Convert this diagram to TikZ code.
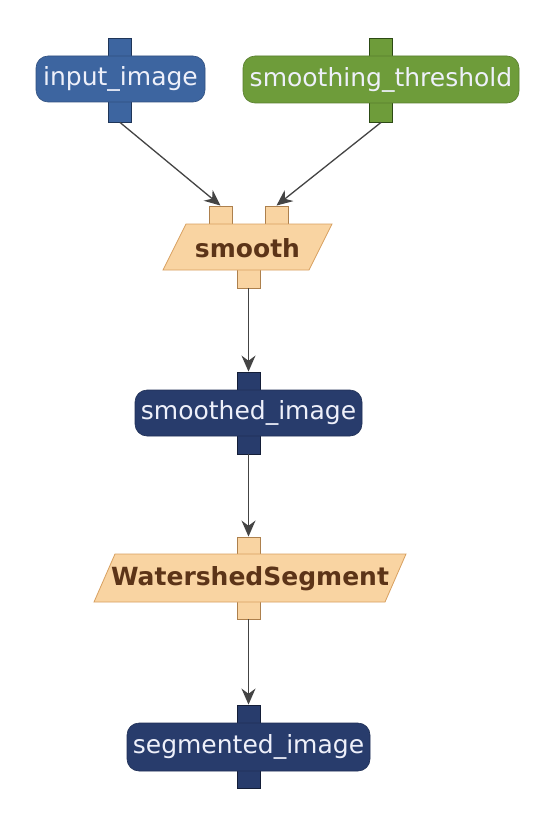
\documentclass[tikz,border=0pt]{standalone}
\usepackage{fontspec}
\setmainfont{DejaVu Sans}
\usetikzlibrary{arrows.meta}
\definecolor{cIn}{HTML}{3D65A0}
\definecolor{cInD}{HTML}{1F3558}
\definecolor{cGr}{HTML}{6E9C3A}
\definecolor{cGrD}{HTML}{2C4A14}
\definecolor{cNv}{HTML}{283C6C}
\definecolor{cNvD}{HTML}{141E38}
\definecolor{cPr}{HTML}{F9D4A2}
\definecolor{cPrD}{HTML}{D8A060}
\definecolor{cPrT}{HTML}{5C3418}
\definecolor{cTxt}{HTML}{EEF0FA}
\definecolor{cArr}{HTML}{444444}
\begin{document}
\begin{tikzpicture}[x=1pt,y=-1pt,
  portbox/.style={draw=#1, line width=0.9pt, inner sep=0pt, minimum width=23, rectangle},
  databox/.style={rounded corners=12pt, inner sep=0pt, minimum height=46, text=cTxt,
    font=\fontsize{25}{29}\selectfont, draw=#1, line width=0.6pt},
  proctext/.style={font=\bfseries\fontsize{25}{29}\selectfont, text=cPrT, inner sep=0pt},
  procshape/.style={fill=cPr, draw=cPrD, line width=0.8pt},
  conn/.style={draw=cArr, line width=1.3pt, -{Stealth[length=16pt,width=14pt]}}
]
\useasboundingbox (0,0) rectangle (547,821);
\fill[white] (0,0) rectangle (547,821);

% input_image
\node[portbox=cInD, fill=cIn, minimum height=84] (pin) at (120,80) {};
\node[databox=cIn!80!black, fill=cIn, minimum width=169] (nin) at (120.5,79) {input\_image};

% smoothing_threshold
\node[portbox=cGrD, fill=cGr, minimum height=84] (pth) at (381,80) {};
\node[databox=cGr!80!black, fill=cGr, minimum width=276, minimum height=47] (nth) at (381,79.5) {smoothing\_threshold};

% smooth
\node[portbox=cPrD!80!black, fill=cPr, minimum height=30] (psa) at (220.5,221) {};
\node[portbox=cPrD!80!black, fill=cPr, minimum height=30] (psb) at (276.5,221) {};
\node[portbox=cPrD!80!black, fill=cPr, minimum height=26] (psc) at (248.5,275) {};
\path[procshape] (163,270) -- (186,224) -- (332,224) -- (309,270) -- cycle;
\node[proctext] (nsm) at (247.5,248) {smooth};

% smoothed_image
\node[portbox=cNvD, fill=cNv, minimum height=82] (psi) at (248.5,413) {};
\node[databox=cNv!80!black, fill=cNv, minimum width=227] (nsi) at (248.5,413) {smoothed\_image};

% WatershedSegment
\node[portbox=cPrD!80!black, fill=cPr, minimum height=82] (pws) at (248.5,578) {};
\path[procshape] (94,602) -- (115,554) -- (406,554) -- (385,602) -- cycle;
\node[proctext] (nws) at (250,579) {WatershedSegment};

% segmented_image
\node[portbox=cNvD, fill=cNv, minimum height=83] (pse) at (248.5,746.5) {};
\node[databox=cNv!80!black, fill=cNv, minimum width=243, minimum height=48] (nse) at (248.5,747) {segmented\_image};

% connectors
\draw[conn] (pin.south) -- (psa.north);
\draw[conn] (pth.south) -- (psb.north);
\draw[conn] (psc.south) -- (psi.north);
\draw[conn] (psi.south) -- (pws.north);
\draw[conn] (pws.south) -- (pse.north);
\end{tikzpicture}
\end{document}
